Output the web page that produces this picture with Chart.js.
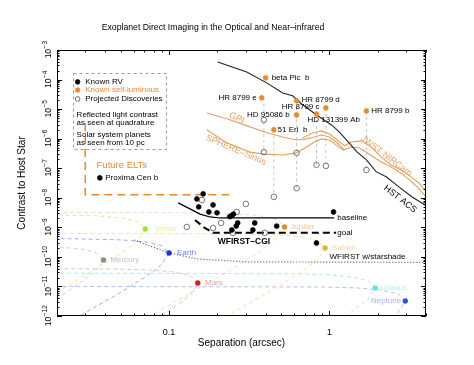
<!DOCTYPE html>
<html>
<head>
<meta charset="utf-8">
<script src="https://cdn.jsdelivr.net/npm/chart.js@4"></script>
<style>
  body { margin: 0; background: #fff; }
</style>
</head>
<body>
<canvas id="chart" width="474" height="365"></canvas>
<script>
// ---- tick labels ----
const xTickLabels = [0.1, 1];
const yTickLabels = [1e-3, 1e-4, 1e-5, 1e-6, 1e-7, 1e-8, 1e-9, 1e-10, 1e-11, 1e-12];

// ---- known planets ([separation arcsec, contrast]) ----
const knownRV = [
    [0.163, 1.35e-8], [0.149, 9.1e-9], [0.153, 4.9e-9], [0.188, 5.7e-9], [0.177, 3.3e-9],
    [0.199, 3.1e-9], [0.239, 2.3e-9], [0.246, 2.5e-9], [0.252, 2.8e-9], [0.268, 1.4e-9],
    [0.262, 1.1e-9], [0.342, 1.4e-9], [0.246, 8.1e-10], [0.333, 8.1e-10], [0.469, 1.1e-9],
    [0.83, 2.95e-10], [1.06, 3.3e-9]
];
const proximaCen = [[0.037, 4.7e-8]];

const selfLuminousNames = ['beta Pic b', 'HR 8799 e', 'HR 8799 d', 'HR 8799 c', 'HD 131399 Ab', 'HD 95086 b', '51 Eri b', 'HR 8799 b'];
const selfLuminous = [
    [0.40, 1.13e-4], [0.378, 2.4e-5], [0.624, 1.9e-5], [0.95, 1.1e-5],
    [0.83, 6.8e-6], [0.624, 6.3e-6], [0.45, 2.0e-6], [1.70, 8.6e-6]
];

const projected = [
    [0.301, 6.2e-9], [0.160, 8.4e-9], [0.129, 1.03e-9], [0.211, 1.4e-9], [0.188, 9.5e-10],
    [0.250, 6.5e-10], [0.395, 6.5e-10], [0.264, 3.3e-9],
    [0.39, 4.3e-6], [0.39, 3.5e-7], [0.45, 1.07e-8], [0.624, 3.3e-7], [0.624, 2.1e-8],
    [0.83, 1.3e-7], [0.95, 1.2e-7], [1.70, 8.7e-8]
];
// drop lines from self-luminous planets to projected reflected-light contrast
const dropLines = [
    [[0.39, 2.4e-5], [0.39, 3.5e-7]],
    [[0.45, 2.0e-6], [0.45, 1.07e-8]],
    [[0.624, 1.9e-5], [0.624, 2.1e-8]],
    [[0.83, 6.8e-6], [0.83, 1.3e-7]],
    [[0.95, 1.1e-5], [0.95, 1.2e-7]],
    [[1.70, 8.6e-6], [1.70, 8.7e-8]]
];

// ---- instrument contrast curves ----
const hstAcs = [
    [0.201, 3.9e-4], [0.305, 1.8e-4], [0.406, 7.7e-5], [0.511, 3.5e-5], [0.589, 2.8e-5],
    [0.68, 1.4e-5], [0.867, 5.4e-6], [1.03, 2.9e-6], [1.15, 1.7e-6], [1.33, 7.1e-7],
    [1.49, 3.5e-7], [1.70, 1.9e-7], [1.96, 7.5e-8], [2.26, 5.1e-8], [2.72, 2.3e-8],
    [3.28, 1.06e-8], [3.95, 5.7e-9]
];
const gpi = [
    [0.172, 7.4e-6], [0.232, 4.6e-6], [0.319, 2.5e-6], [0.412, 1.56e-6], [0.511, 1.14e-6],
    [0.624, 9.0e-7], [0.72, 9.8e-7], [0.807, 1.14e-6], [0.892, 1.33e-6], [1.0, 1.14e-6],
    [1.12, 7.1e-7], [1.24, 4.1e-7]
];
const sphereSirius = [
    [0.172, 2.0e-6], [0.229, 7.1e-7], [0.319, 3.5e-7], [0.395, 3.0e-7], [0.511, 2.8e-7],
    [0.624, 3.3e-7], [0.72, 5.2e-7], [0.807, 7.7e-7], [0.892, 9.8e-7], [1.0, 9.0e-7],
    [1.12, 5.7e-7], [1.22, 4.1e-7], [1.37, 5.2e-7], [1.54, 4.8e-7], [1.77, 3.0e-7],
    [2.05, 1.76e-7], [2.43, 1.10e-7], [2.84, 6.4e-8], [3.28, 3.4e-8], [3.62, 2.0e-8], [3.95, 1.15e-8]
];
const jwstNircam = [
    [0.68, 1.05e-6], [0.784, 1.56e-6], [0.892, 1.82e-6], [1.0, 1.44e-6], [1.12, 9.0e-7],
    [1.24, 5.7e-7], [1.37, 7.7e-7], [1.58, 8.4e-7], [1.82, 5.2e-7], [2.10, 2.4e-7],
    [2.43, 1.29e-7], [2.80, 8.7e-8], [3.23, 5.1e-8], [3.62, 3.2e-8], [3.95, 1.8e-8]
];
const cgiBaseline = [[0.114, 6.7e-9], [0.135, 4.2e-9], [0.156, 2.8e-9], [0.18, 2.24e-9], [0.207, 2.07e-9], [1.07, 2.07e-9]];
const cgiGoal = [[0.145, 1.77e-9], [0.167, 9.5e-10], [0.188, 6.5e-10], [1.10, 6.5e-10]];
const starshade = [[0.0607, 3.7e-10], [0.1, 1.36e-10], [0.15, 8.5e-11], [0.3, 6.8e-11], [4, 6.5e-11]];
const futureElts = [[0.030, 3.4e-6], [0.030, 1.26e-8], [0.246, 1.26e-8]];

// ---- solar system planets at 10 pc (quadrature point, then phase curve) ----
const planetNames = ['Mercury', 'Venus', 'Earth', 'Mars', 'Jupiter', 'Saturn', 'Uranus', 'Neptune'];
const planetSep = [0.039, 0.071, 0.1, 0.151, 0.525, 0.94, 1.93, 2.97];
const planetContrast = [7.9e-11, 8.8e-10, 1.36e-10, 1.3e-11, 1.03e-9, 2.0e-10, 8.9e-12, 3.2e-12];

const mercuryCurve = [[0.02, 3.7e-12], [0.027, 1.2e-11], [0.035, 3.2e-11], [0.039, 7.9e-11], [0.035, 1.4e-10], [0.03, 1.75e-10], [0.02, 2.2e-10]];
const venusCurve = [[0.02, 6.6e-12], [0.025, 1.3e-11], [0.035, 4.1e-11], [0.05, 1.3e-10], [0.064, 3.6e-10], [0.071, 8.8e-10], [0.064, 1.55e-9], [0.05, 2.1e-9], [0.035, 2.45e-9], [0.02, 2.6e-9]];
const earthCurve = [[0.02, 3.5e-13], [0.03, 1.3e-12], [0.05, 6.3e-12], [0.07, 2.0e-11], [0.08, 3.3e-11], [0.09, 5.6e-11], [0.1, 1.36e-10], [0.09, 2.4e-10], [0.07, 3.25e-10], [0.05, 3.77e-10], [0.02, 4.2e-10]];
const marsCurve = [[0.0755, 6.1e-13], [0.106, 1.9e-12], [0.121, 3.2e-12], [0.136, 5.4e-12], [0.151, 1.3e-11], [0.136, 2.3e-11], [0.106, 3.1e-11], [0.0755, 3.6e-11], [0.045, 3.9e-11], [0.02, 4.0e-11]];
const jupiterCurve = [[0.0525, 3.4e-13], [0.079, 1.1e-12], [0.105, 2.7e-12], [0.158, 9.6e-12], [0.263, 4.8e-11], [0.368, 1.5e-10], [0.473, 4.2e-10], [0.525, 1.03e-9], [0.473, 1.83e-9], [0.368, 2.46e-9], [0.263, 2.85e-9], [0.158, 3.1e-9], [0.02, 3.2e-9]];
const saturnCurve = [[0.188, 5.2e-13], [0.282, 1.9e-12], [0.47, 9.3e-12], [0.658, 2.9e-11], [0.846, 8.2e-11], [0.94, 2.0e-10], [0.846, 3.56e-10], [0.658, 4.8e-10], [0.47, 5.5e-10], [0.282, 6.0e-10], [0.02, 6.2e-10]];
const uranusCurve = [[0.965, 4.1e-13], [1.35, 1.3e-12], [1.74, 3.7e-12], [1.93, 8.9e-12], [1.74, 1.58e-11], [1.35, 2.1e-11], [0.965, 2.5e-11], [0.58, 2.7e-11], [0.02, 2.8e-11]];
const neptuneCurve = [[2.08, 4.7e-13], [2.67, 1.3e-12], [2.97, 3.2e-12], [2.67, 5.7e-12], [2.08, 7.6e-12], [1.49, 8.9e-12], [0.89, 9.6e-12], [0.02, 1.0e-11]];

// ---- styling ----
const FONT = '"Liberation Sans", Arial, sans-serif';
const ORANGE = '#e88a30';
const ORANGE_LINE = 'rgb(228,160,95)';
const planetDot = ['#8c8c8c', '#a8e03c', '#1a34e0', '#d02424', '#e0902a', '#e2b23a', '#62e4e4', '#3454d8'];
const planetText = ['#c2c2c2', '#dcefa4', '#7484e2', '#e8a2a2', '#f2c698', '#f0d896', '#b2f0f0', '#a2b2ee'];
const planetLine = ['rgba(150,150,150,0.45)', 'rgba(190,225,70,0.55)', 'rgba(70,90,220,0.5)', 'rgba(220,110,110,0.45)',
                    'rgba(240,185,115,0.5)', 'rgba(232,205,100,0.55)', 'rgba(100,215,215,0.5)', 'rgba(90,110,220,0.45)'];
const planetCurves = [mercuryCurve, venusCurve, earthCurve, marsCurve, jupiterCurve, saturnCurve, uranusCurve, neptuneCurve];
const planetLabelAlign = ['left', 'left', 'left', 'left', 'left', 'left', 'left', 'right'];

// label anchors in data coordinates
const textLabels = [
    {text: 'beta Pic  b', at: [0.436, 1.13e-4]},
    {text: 'HR 8799 e', at: [0.352, 2.4e-5], align: 'right'},
    {text: 'HR 8799 d', at: [0.67, 2.0e-5]},
    {text: 'HR 8799 c', at: [0.504, 1.18e-5]},
    {text: 'HD 131399 Ab', at: [0.73, 4.3e-6]},
    {text: 'HD 95086 b', at: [0.565, 6.3e-6], align: 'right'},
    {text: '51 Eri  b', at: [0.475, 2.0e-6]},
    {text: 'HR 8799 b', at: [1.82, 8.6e-6]},
    {text: 'GPI', at: [0.264, 5.0e-6], rot: 25, color: ORANGE_LINE, size: 9, align: 'center'},
    {text: 'SPHERE\u2013Sirius', at: [0.261, 4.1e-7], rot: 23, color: ORANGE_LINE, size: 9, align: 'center'},
    {text: 'JWST NIRCam', at: [2.26, 2.6e-7], rot: 37, color: ORANGE_LINE, size: 9, align: 'center'},
    {text: 'HST ACS', at: [2.76, 9.1e-9], rot: 38, size: 9, align: 'center'},
    {text: 'Future ELTs', at: [0.0353, 1.28e-7], color: ORANGE, size: 9.5},
    {text: 'Proxima Cen b', at: [0.040, 4.7e-8]},
    {text: 'baseline', at: [1.12, 2.07e-9]},
    {text: 'goal', at: [1.12, 6.5e-10]},
    {text: 'WFIRST\u2013CGI', at: [0.201, 3.2e-10], weight: 'bold', size: 8.5},
    {text: 'WFIRST w/starshade', at: [1.0, 1.0e-10]},
    {text: 'Known RV', at: [0.030, 8.3e-5]},
    {text: 'Known self-luminous', at: [0.030, 4.4e-5], color: ORANGE},
    {text: 'Projected Discoveries', at: [0.030, 2.2e-5]},
    {text: 'Reflected light contrast', at: [0.0265, 6.3e-6]},
    {text: 'as seen at quadrature', at: [0.0265, 3.4e-6]},
    {text: 'Solar system planets', at: [0.0265, 1.33e-6]},
    {text: 'as seen from 10 pc', at: [0.0265, 7.1e-7]}
];
const planetLabelAt = [[0.043, 7.9e-11], [0.0807, 8.8e-10], [0.112, 1.36e-10], [0.1675, 1.3e-11],
                       [0.57, 1.03e-9], [1.04, 2.0e-10], [2.10, 8.9e-12], [2.80, 3.2e-12]];
const legendBox = [[0.025, 1.67e-4], [0.0957, 4.5e-7]];
const legendMarks = [
    {at: [0.0269, 8.3e-5], fill: '#000', stroke: '#000'},
    {at: [0.0269, 4.4e-5], fill: ORANGE, stroke: ORANGE},
    {at: [0.0269, 2.2e-5], fill: null, stroke: '#444'}
];

function pts(arr) {
    return arr.map(p => ({x: p[0], y: p[1]}));
}

function joinSegments(segs) {
    let out = [];
    segs.forEach(s => {
        out = out.concat(pts(s));
        out.push({x: s[1][0], y: null});
    });
    return out;
}

function drawLabel(ctx, chart, t) {
    let px = chart.scales.x.getPixelForValue(t.at[0]);
    let py = chart.scales.y.getPixelForValue(t.at[1]);
    ctx.save();
    ctx.translate(px, py);
    if (t.rot) ctx.rotate(t.rot * Math.PI / 180);
    ctx.font = (t.weight || 'normal') + ' ' + (t.size || 8) + 'px ' + FONT;
    ctx.fillStyle = t.color || '#000';
    ctx.textAlign = t.align || 'left';
    ctx.textBaseline = 'middle';
    ctx.fillText(t.text, 0, 0);
    ctx.restore();
}

const decor = {
    id: 'decor',
    afterDraw(chart) {
        const ctx = chart.ctx;
        const xs = chart.scales.x, ys = chart.scales.y;
        const a = chart.chartArea;

        // frame
        ctx.save();
        ctx.strokeStyle = '#000';
        ctx.lineWidth = 1;
        ctx.strokeRect(Math.round(a.left) + 0.5, Math.round(a.top) + 0.5,
                       Math.round(a.right - a.left) - 1, Math.round(a.bottom - a.top) - 1);

        // inward ticks on all four sides
        ctx.beginPath();
        for (let d = -2; d <= 0; d++) {
            for (let m = 1; m <= 9; m++) {
                let v = m * Math.pow(10, d);
                if (v < 0.0199 || v > 4.001) continue;
                let px = Math.round(xs.getPixelForValue(v)) + 0.5;
                let len = m === 1 ? 5 : 2.5;
                ctx.moveTo(px, a.bottom); ctx.lineTo(px, a.bottom - len);
                ctx.moveTo(px, a.top); ctx.lineTo(px, a.top + len);
            }
        }
        for (let e = -12; e <= -3; e++) {
            for (let m = 1; m <= 9; m++) {
                if (e === -3 && m > 1) continue;
                let v = m * Math.pow(10, e);
                let py = Math.round(ys.getPixelForValue(v)) + 0.5;
                let len = m === 1 ? 5 : 2.5;
                ctx.moveTo(a.left, py); ctx.lineTo(a.left + len, py);
                ctx.moveTo(a.right, py); ctx.lineTo(a.right - len, py);
            }
        }
        ctx.stroke();

        // y tick labels, rotated, as 10^n
        yTickLabels.forEach(v => {
            let py = ys.getPixelForValue(v);
            let ex = '\u2212' + Math.abs(Math.round(Math.log10(v)));
            ctx.save();
            ctx.translate(a.left - 6, py);
            ctx.rotate(-Math.PI / 2);
            ctx.fillStyle = '#000';
            ctx.textBaseline = 'alphabetic';
            ctx.textAlign = 'left';
            ctx.font = '8.5px ' + FONT;
            let w1 = ctx.measureText('10').width;
            ctx.font = '6.5px ' + FONT;
            let w2 = ctx.measureText(ex).width;
            let x0 = -(w1 + w2) / 2;
            ctx.font = '8.5px ' + FONT;
            ctx.fillText('10', x0, 0);
            ctx.font = '6.5px ' + FONT;
            ctx.fillText(ex, x0 + w1 + 0.5, -4);
            ctx.restore();
        });

        // legend box
        let bx0 = xs.getPixelForValue(legendBox[0][0]), by0 = ys.getPixelForValue(legendBox[0][1]);
        let bx1 = xs.getPixelForValue(legendBox[1][0]), by1 = ys.getPixelForValue(legendBox[1][1]);
        ctx.setLineDash([3, 3]);
        ctx.strokeStyle = '#9a9a9a';
        ctx.strokeRect(Math.round(bx0) + 0.5, Math.round(by0) + 0.5, Math.round(bx1 - bx0), Math.round(by1 - by0));
        ctx.setLineDash([]);
        legendMarks.forEach(mk => {
            ctx.beginPath();
            ctx.arc(xs.getPixelForValue(mk.at[0]), ys.getPixelForValue(mk.at[1]), 2.3, 0, 2 * Math.PI);
            if (mk.fill) { ctx.fillStyle = mk.fill; ctx.fill(); }
            ctx.lineWidth = 0.8;
            ctx.strokeStyle = mk.stroke;
            ctx.stroke();
        });
        ctx.restore();

        textLabels.forEach(t => drawLabel(ctx, chart, t));
        planetNames.forEach((n, i) => drawLabel(ctx, chart, {
            text: n, at: planetLabelAt[i], color: planetText[i], align: planetLabelAlign[i]
        }));
    }
};

const scatter = (data, opts) => Object.assign({
    data: pts(data), showLine: false, pointStyle: 'circle', pointRadius: 2.4,
    pointBorderWidth: 0.8
}, opts);
const curve = (data, opts) => Object.assign({
    data: pts(data), pointRadius: 0, borderWidth: 1, tension: 0, fill: false
}, opts);

let datasets = [
    scatter(knownRV, {label: 'Known RV', backgroundColor: '#000', borderColor: '#000'}),
    scatter(proximaCen, {label: 'Proxima Cen b', backgroundColor: '#000', borderColor: '#000'}),
    scatter(selfLuminous, {label: 'Known self-luminous', backgroundColor: ORANGE, borderColor: ORANGE}),
    {
        label: 'Solar system',
        data: planetNames.map((n, i) => ({x: planetSep[i], y: planetContrast[i]})),
        showLine: false, pointRadius: 2.7, pointBorderWidth: 0,
        pointBackgroundColor: planetDot, pointBorderColor: planetDot
    },
    scatter(projected, {label: 'Projected Discoveries', backgroundColor: 'rgba(255,255,255,0)', borderColor: '#555', pointRadius: 2.8}),
    {label: 'drop lines', data: joinSegments(dropLines), pointRadius: 0, borderWidth: 0.8,
     borderColor: 'rgba(150,150,150,0.7)', borderDash: [3, 3], spanGaps: false},
    curve(hstAcs, {label: 'HST ACS', borderColor: '#222', borderWidth: 1.1}),
    curve(gpi, {label: 'GPI', borderColor: ORANGE_LINE, borderWidth: 1.1}),
    curve(sphereSirius, {label: 'SPHERE-Sirius', borderColor: ORANGE_LINE, borderWidth: 1.1}),
    curve(jwstNircam, {label: 'JWST NIRCam', borderColor: ORANGE_LINE, borderWidth: 1.1}),
    curve(cgiBaseline, {label: 'baseline', borderColor: '#000', borderWidth: 1.2}),
    curve(cgiGoal, {label: 'goal', borderColor: '#000', borderWidth: 2, borderDash: [7, 4]}),
    curve(starshade, {label: 'WFIRST w/starshade', borderColor: 'rgba(40,40,40,0.8)', borderWidth: 1.2, borderDash: [1, 2]}),
    curve(futureElts, {label: 'Future ELTs', borderColor: ORANGE, borderWidth: 1.5, borderDash: [8, 5]})
];
planetCurves.forEach((c, i) => {
    datasets.push(curve(c, {label: planetNames[i] + ' phase', borderColor: planetLine[i], borderWidth: 1, borderDash: [4, 3]}));
});

new Chart(document.getElementById('chart'), {
    type: 'line',
    data: {datasets: datasets},
    options: {
        responsive: false,
        animation: false,
        devicePixelRatio: 1,
        layout: {padding: {left: 0, right: 48, top: 0, bottom: 0}},
        plugins: {
            legend: {display: false},
            tooltip: {enabled: false},
            title: {
                display: true,
                text: 'Exoplanet Direct Imaging in the Optical and Near\u2013infrared',
                color: '#000',
                font: {family: FONT, size: 8.7, weight: 'normal'},
                padding: {top: 22.5, bottom: 17}
            }
        },
        scales: {
            x: {
                type: 'logarithmic',
                min: 0.02,
                max: 4,
                grid: {display: false},
                border: {display: false},
                afterBuildTicks: s => { s.ticks = xTickLabels.map(v => ({value: v})); },
                afterFit: s => { s.height = 49; },
                ticks: {
                    autoSkip: false, maxRotation: 0, padding: 3, color: '#000',
                    font: {family: FONT, size: 9},
                    callback: v => String(v)
                },
                title: {
                    display: true, text: 'Separation (arcsec)', color: '#000',
                    font: {family: FONT, size: 10}, padding: {top: 0, bottom: 16}
                }
            },
            y: {
                type: 'logarithmic',
                min: 1e-12,
                max: 1e-3,
                grid: {display: false},
                border: {display: false},
                afterFit: s => { s.width = 57; },
                ticks: {display: false},
                title: {
                    display: true, text: 'Contrast to Host Star', color: '#000',
                    font: {family: FONT, size: 10}, padding: {top: 16, bottom: 0}
                }
            }
        }
    },
    plugins: [decor]
});
</script>
</body>
</html>
